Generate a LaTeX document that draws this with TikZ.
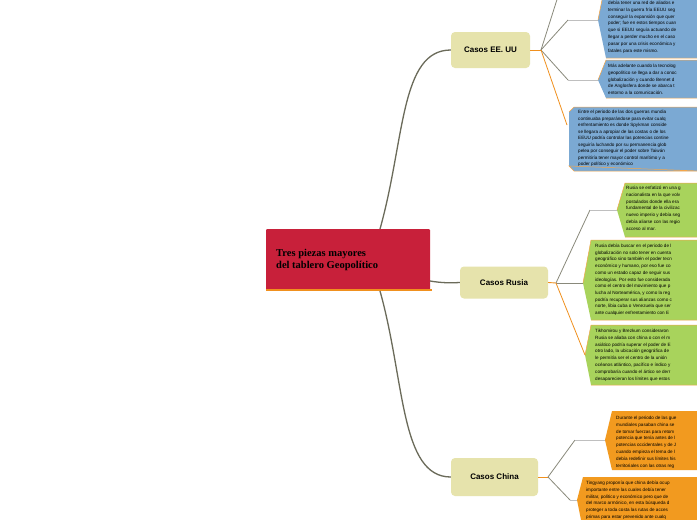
\documentclass[tikz,border=0pt]{standalone}
\usepackage{fontspec}
\setmainfont{Liberation Sans}
\newfontfamily\titlefont{Liberation Serif}
\definecolor{cred}{HTML}{C8203A}
\definecolor{cbox}{HTML}{E6E3AC}
\definecolor{cline}{HTML}{6B6B5A}
\definecolor{corg}{HTML}{F0901E}
\definecolor{cblue}{HTML}{7BA9D3}
\definecolor{cgreen}{HTML}{A8D35C}
\definecolor{cobox}{HTML}{F29A1F}
\tikzset{
  main/.style={draw=none,fill=cbox,rounded corners=4pt,font=\bfseries\fontsize{8}{9}\selectfont,inner sep=0pt},
  conn/.style={draw=cline,line width=1.3pt},
  sub/.style={draw=cline!80,line width=0.8pt},
  osub/.style={draw=corg,line width=0.8pt},
  hl/.style={draw=gray!50,line width=0.8pt},
  txt/.style={anchor=north west,align=left,inner sep=0pt,font=\fontsize{4.6}{6.8}\selectfont},
  leaf/.style={draw=corg!80,line width=0.5pt}
}
\newcommand{\hexleaf}[5]{% x, top, bottom, mid, color
  \fill[#5] (#1,#4) -- (#1+8,#2) -- (700,#2) -- (700,#3) -- (#1+8,#3) -- cycle;
  \draw[leaf] (#1,#4) -- (#1+8,#2) -- (700,#2) (700,#3) -- (#1+8,#3) -- cycle;}
\begin{document}
\begin{tikzpicture}[x=1pt,y=-1pt]
\useasboundingbox (0,0) rectangle (697,520);
\clip (0,0) rectangle (697,520);
\fill[white] (0,0) rectangle (697,520);
% central
\node[fill=cred,minimum width=164pt,minimum height=61pt,inner sep=0pt,rounded corners=1pt] (c) at (348,259.5) {};
\node[anchor=west,align=left,inner sep=0pt,font=\titlefont\bfseries\fontsize{10.5}{12.5}\selectfont] (ct) at (276,260) {Tres piezas mayores\\del tablero Geopolítico};
\draw[corg,line width=1.5pt] (266,290) -- (432,290);
% mains
\node[main,minimum width=79pt,minimum height=36pt] (us) at (490.5,50) {Casos EE. UU};
\node[main,minimum width=88pt,minimum height=32pt] (ru) at (504,282.5) {Casos Rusia};
\node[main,minimum width=87pt,minimum height=38pt] (cn) at (494.5,477) {Casos China};
\draw[conn] (380,229) .. controls (405,140) and (400,50) .. (us.west);
\draw[conn] (430,281) .. controls (442,283) and (450,283) .. (ru.west);
\draw[conn] (380,291) .. controls (405,380) and (400,477) .. (cn.west);
% EEUU leaves
\coordinate (usr) at (541,50);
\draw[corg,line width=0.9pt] (us.east) -- (usr);
\coordinate (u0) at (560,-10);
\draw[sub] (usr) -- (u0);
\hexleaf{598}{-20}{58}{20}{cblue}
\coordinate (u1) at (568,20);
\coordinate (u1e) at (598,20);
\draw[sub] (usr) -- (u1); \draw[hl] (u1) -- (u1e);
\node[txt] (t1) at (608,1) {debía tener una red de aliados e\\terminar la guerra fría EEUU seg\\conseguir la expansión que quer\\poder; fue en estos tiempos cuan\\que si EEUU seguía actuando de\\llegar a perder mucho en el caso\\pasar por una crisis económica y\\fatales para este mismo.};
\hexleaf{598}{60}{98}{80}{cblue}
\coordinate (u2) at (568,80);
\coordinate (u2e) at (598,80);
\draw[sub] (usr) -- (u2); \draw[hl] (u2) -- (u2e);
\node[txt] (t2) at (608,64) {Más adelante cuando la tecnolog\\geopolítico se llega a dar a conoc\\globalización y cuando Bennet d\\de Anglosfera donde se abarca t\\entorno a la comunicación.};
\fill[cblue] (569,112) -- (574,107) -- (700,107) -- (700,171) -- (574,171) -- (569,166) -- cycle;
\draw[leaf] (569,112) -- (574,107) -- (700,107) (700,171) -- (574,171) -- (569,166) -- cycle;
\coordinate (u3) at (567,125);
\draw[osub] (usr) -- (u3);
\node[txt,font=\fontsize{4.6}{6.5}\selectfont] (t3) at (578,110) {Entre el periodo de las dos guerras mundia\\continuaba preparándose para evitar cualq\\enfrentamiento es donde Spykman conside\\se llegara a apropiar de las costas o de los\\EEUU podría controlar las potencias contine\\seguiría luchando por su permanencia glob\\pelea por conseguir el poder sobre Taiwán\\permitiría tener mayor control marítimo y a\\poder político y económico};
% Rusia leaves
\coordinate (rur) at (556,283);
\draw[corg,line width=0.9pt] (ru.east) -- (rur);
\hexleaf{617}{183}{237}{210}{cgreen}
\coordinate (r1) at (590,210); \coordinate (r1e) at (617,210);
\draw[sub] (rur) -- (r1); \draw[hl] (r1) -- (r1e);
\node[txt] (t4) at (626,186) {Rusia se enfatizó en una g\\nacionalista en la que volv\\postulados donde ella era\\fundamental de la civilizac\\nuevo imperio y debía seg\\debía aliarse con las regio\\acceso al mar.};
\fill[cgreen] (583,283) -- (591,240) -- (700,240) -- (700,320) -- (591,320) -- cycle;
\draw[leaf] (583,283) -- (591,240) -- (700,240) (700,320) -- (591,320) -- cycle;
\coordinate (r2e) at (583,283);
\draw[sub] (rur) -- (r2e);
\node[txt,font=\fontsize{4.6}{6.7}\selectfont] (t5) at (595,244) {Rusia debía buscar en el periodo de l\\globalización no solo tener en cuenta\\geográfico sino también el poder tecn\\económico y humano, por eso fue co\\como un estado capaz de seguir sus\\ideologías. Por esto fue considerada\\como el centro del movimiento que p\\lucha al Norteamérica, y como la reg\\podría recuperar sus alianzas como c\\norte, libia cuba o Venezuela que ser\\ante cualquier enfrentamiento con E};
\fill[cgreen] (585,355) -- (591,325) -- (700,325) -- (700,385) -- (591,385) -- cycle;
\draw[leaf] (585,355) -- (591,325) -- (700,325) (700,385) -- (591,385) -- cycle;
\coordinate (r3e) at (585,355);
\draw[osub] (rur) -- (r3e);
\node[txt] (t6) at (595,329) {Tikhomirou y Brezkum consideraron\\Rusia se aliaba con china o con el m\\asiático podría superar el poder de E\\otro lado, la ubicación geográfica de\\le permitía ser el centro de la unión\\océanos atlántico, pacífico e índico y\\comprobaría cuando el ártico se derr\\desaparecieran los límites que estos};
% China leaves
\coordinate (cnr) at (548,477);
\draw[corg,line width=0.9pt] (cn.east) -- (cnr);
\fill[cobox] (605,440) -- (612,411) -- (700,411) -- (700,470) -- (612,470) -- cycle;
\coordinate (c1) at (575,440); \coordinate (c1e) at (605,440);
\draw[sub] (cnr) -- (c1); \draw[hl] (c1) -- (c1e);
\node[txt] (t7) at (616,416) {Durante el periodo de las gue\\mundiales pasaban china se\\de tomar fuerzas para retom\\potencia que tenía antes de l\\potencias occidentales y de J\\cuando empieza el tema de l\\debía redefinir sus límites his\\territoriales con las otras reg};
\fill[cobox] (577,500) -- (583,477) -- (700,477) -- (700,530) -- (583,530) -- cycle;
\coordinate (c2) at (570,500); \coordinate (c2e) at (577,500);
\draw[sub] (cnr) -- (c2); \draw[hl] (c2) -- (c2e);
\node[txt] (t8) at (586,481) {Tingyang proponía que china debía ocup\\importante entre las cuales debía tener\\militar, político y económico pero que de\\del marco armónico, en esta búsqueda d\\proteger a toda costa las rutas de acces\\primas para estar prevenido ante cualq};
\end{tikzpicture}
\end{document}
